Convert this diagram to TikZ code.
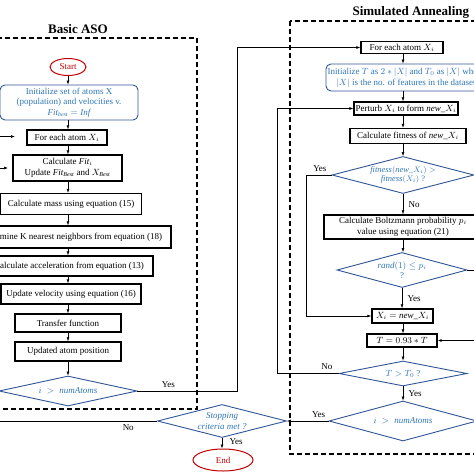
\documentclass[tikz,border=0pt]{standalone}
\usepackage{amsmath}
\usepackage{amssymb}
\usepackage{fontspec}
\setmainfont{Liberation Serif}
\usetikzlibrary{shapes.geometric,arrows.meta}
\definecolor{asoblue}{RGB}{47,85,151}
\definecolor{asotext}{RGB}{46,117,182}
\definecolor{asored}{RGB}{192,0,0}

\begin{document}
\begin{tikzpicture}[x=1pt, y=-1pt,
    font=\fontsize{9}{10.5}\selectfont,
    procbox/.style={draw, line width=1.4pt, inner sep=1pt, align=center},
    bluebox/.style={draw=asoblue, line width=0.9pt, rounded corners=5pt, text=asotext, inner sep=1pt, align=center},
    decision/.style={draw=asoblue, line width=0.9pt, diamond, aspect=3.8, inner sep=-1.5pt, text=asotext, align=center},
    terminal/.style={draw=asored, line width=1pt, ellipse, inner sep=0pt, text=asored},
    group/.style={line width=1.8pt, dash pattern=on 5pt off 3pt},
    heading/.style={font=\bfseries\fontsize{13}{15}\selectfont},
    arr/.style={-{Latex[length=4pt,width=3pt]}, line width=0.6pt}]
    \useasboundingbox (0,0) rectangle (474,474);
    \clip (0,0) rectangle (474,474);

    % dashed groups and titles
    \draw[group] (-10,38) rectangle (197,409);
    \draw[group] (290,21) rectangle (490,454);
    \node[heading] (titleA) at (78,29) {Basic ASO};
    \node[heading, anchor=west] (titleS) at (349,12) {Simulated Annealing};

    % column guides
    \coordinate (colA) at (68,0);
    \coordinate (colS) at (403,0);
    \coordinate (busA) at (237,0);
    \coordinate (busYes) at (306,0);
    \coordinate (busNo) at (277,0);
    \coordinate (tipEach) at (15,136.5);
    \coordinate (tipFit) at (8,168);

    % basic ASO
    \node[terminal, minimum width=36pt, minimum height=17pt] (start) at (68,67) {Start};
    \node[bluebox, minimum width=138pt, minimum height=35pt] (initA) at (69,102.5) {Initialize set of atoms X\\(population) and velocities v.\\$\mathit{Fit}_{\mathit{best}}=\mathit{Inf}$};
    \node[procbox, minimum width=80pt, minimum height=15pt] (eachA) at (67,137.5) {For each atom $X_i$};
    \node[procbox, minimum width=109pt, minimum height=26pt] (fitA) at (67.5,168) {Calculate $\mathit{Fit}_i$\\Update $\mathit{Fit}_{\mathit{Best}}$ and $X_{\mathit{Best}}$};
    \node[procbox, minimum width=141pt, minimum height=21pt] (mass) at (71,204) {Calculate mass using equation (15)};
    \node[procbox, minimum width=200pt, minimum height=22pt] (knn) at (71,237) {Determine K nearest neighbors from equation (18)};
    \node[procbox, minimum width=168pt, minimum height=20pt] (accel) at (69,266) {Calculate acceleration from equation (13)};
    \node[procbox, minimum width=140pt, minimum height=20pt] (veloc) at (71,294) {Update velocity using equation (16)};
    \node[procbox, minimum width=106pt, minimum height=18pt] (transf) at (68,323) {Transfer function};
    \node[procbox, minimum width=106pt, minimum height=19pt] (updpos) at (68,351.5) {Updated atom position};
    \node[decision, minimum width=138pt, minimum height=30pt] (numA) at (68,391) {$i\;>\;\mathit{numAtoms}$};

    \foreach \a/\b in {start/initA, initA/eachA, eachA/fitA, fitA/mass, mass/knn, knn/accel, accel/veloc, veloc/transf, transf/updpos, updpos/numA}
        \draw[arr] (\a.south -| colA) -- (\b.north -| colA);

    % stopping check
    \node[decision, minimum width=129pt, minimum height=33pt] (stop) at (222,421) {\itshape Stopping\\\itshape criteria met ?};
    \node[terminal, minimum width=60pt, minimum height=22pt] (endn) at (223,460) {End};

    % simulated annealing
    \node[procbox, minimum width=82pt, minimum height=12pt] (eachS) at (402,47.5) {For each atom $X_i$};
    \node[bluebox, minimum width=160pt, minimum height=27pt] (initS) at (406,77.5) {Initialize $T$ as $2*|X|$ and $T_0$ as $|X|$ where\\$|X|$ is the no. of features in the dataset};
    \node[procbox, minimum width=104pt, minimum height=13pt] (perturb) at (406,108.5) {Perturb $X_i$ to form $\mathit{new}\_X_i$};
    \node[procbox, minimum width=116pt, minimum height=15pt] (fitS) at (408,136) {Calculate fitness of $\mathit{new}\_X_i$};
    \node[decision, minimum width=142pt, minimum height=37pt, font=\fontsize{8.5}{9.5}\selectfont] (better) at (403,175) {$\mathit{fitness}(\mathit{new}\_X_i)>$\\$\mathit{fitness}(X_i)$ ?};
    \node[procbox, minimum width=158pt, minimum height=24pt] (boltz) at (403,227) {Calculate Boltzmann probability $p_i$\\value using equation (21)};
    \node[decision, minimum width=130pt, minimum height=35pt] (accept) at (402,270) {$\mathit{rand}(1)\le p_i$\\?};
    \node[procbox, minimum width=61pt, minimum height=14pt] (assign) at (402.5,316) {$X_i=\mathit{new}\_X_i$};
    \node[procbox, minimum width=70pt, minimum height=13pt] (cool) at (402,340.5) {$T=0.93*T$};
    \node[decision, minimum width=128pt, minimum height=25pt] (tcheck) at (403,373.5) {$T>T_0$ ?};
    \node[decision, minimum width=148pt, minimum height=40pt] (numS) at (403,421) {$i\;>\;\mathit{numAtoms}$};

    \foreach \a/\b in {eachS/initS, initS/perturb, perturb/fitS, fitS/better, boltz/accept, assign/cool, cool/tcheck}
        \draw[arr] (\a.south -| colS) -- (\b.north -| colS);
    \draw[arr] (better.south) -- node[right, xshift=2pt] {No} (boltz.north -| better.south);
    \draw[arr] (accept.south) -- node[right, xshift=2pt] {Yes} (assign.north -| accept.south);
    \draw[arr] (tcheck.south) -- node[right, xshift=2pt] {Yes} (numS.north -| tcheck.south);

    % loops and branches
    \draw[arr] (numA.east) -- node[above, pos=0.31] {Yes} (numA.east -| busA) |- (eachS.west);
    \draw[arr] (numA.west) -- ++(-10,0) |- (tipFit);
    \draw[arr] (stop.west) -- node[below, pos=0.16] {No} ++(-180,0) |- (tipEach);
    \draw[arr] (stop.south) -- node[right, pos=0.3, xshift=4pt] {Yes} (endn.north -| stop.south);
    \draw[arr] (better.west) -- node[above, pos=0.46] {Yes} (better.west -| busYes) |- (assign.west);
    \draw[arr] (accept.east) -- ++(20,0) |- (cool.east);
    \draw[arr] (tcheck.west) -- node[above, pos=0.19] {No} (tcheck.west -| busNo) |- (perturb.west);
    \draw[arr] (numS.west) -- node[above, pos=0.24] {Yes} (stop.east);
\end{tikzpicture}
\end{document}
